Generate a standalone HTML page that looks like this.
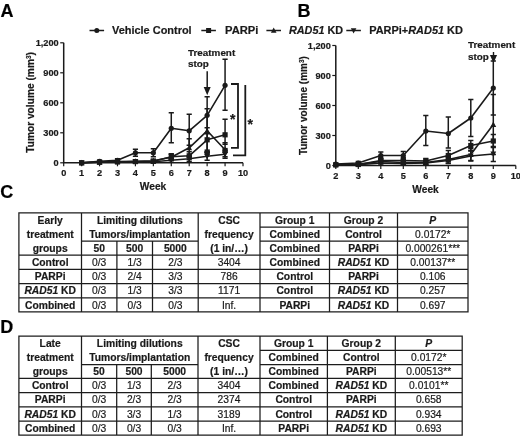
<!DOCTYPE html>
<html lang="en"><head><meta charset="utf-8"><title>Figure</title>
<style>
html,body{margin:0;padding:0;background:#fff;}
body{width:520px;height:436px;overflow:hidden;}
svg{display:block;font-family:"Liberation Sans", Arial, sans-serif;fill:#1a1a1a;}
text{stroke:#1a1a1a;stroke-width:0.2px;}
.tk{font-size:9.2px;font-weight:bold;}
.ax{font-size:10.2px;font-weight:bold;}
.lg{font-size:11px;font-weight:bold;}
.pl{font-size:18px;font-weight:bold;fill:#000;}
.tr{font-size:9.9px;font-weight:bold;}
.tb{font-size:10.3px;font-weight:bold;}
.tn{font-size:10.25px;}
.st{font-size:14px;font-weight:bold;}
i{font-style:italic}
</style></head><body>
<svg width="520" height="436" viewBox="0 0 520 436">
<rect width="520" height="436" fill="#fff"/>
<text x="0.6" y="16.6" class="pl">A</text>
<text x="297.6" y="16.6" class="pl">B</text>
<text x="0.3" y="197.7" class="pl">C</text>
<text x="0.3" y="333.2" class="pl">D</text>
<path d="M89.5 30.5H104.1" stroke="#1a1a1a" stroke-width="1.5"/>
<circle cx="96.80" cy="30.50" r="2.5" fill="#1a1a1a"/>
<text x="112" y="34.3" class="lg" style="font-size:10.95px">Vehicle Control</text>
<path d="M201.29999999999998 30.5H215.9" stroke="#1a1a1a" stroke-width="1.5"/>
<rect x="206.10" y="28.00" width="5.0" height="5.0" fill="#1a1a1a"/>
<text x="225" y="34.3" class="lg" style="font-size:11.2px">PARPi</text>
<path d="M266.4 30.5H281.0" stroke="#1a1a1a" stroke-width="1.5"/>
<path d="M273.70 27.60L276.50 32.80H270.90Z" fill="#1a1a1a"/>
<text x="289" y="34.3" class="lg" style="font-size:10.8px"><tspan font-style="italic">RAD51</tspan> KD</text>
<path d="M346.3 30.5H360.90000000000003" stroke="#1a1a1a" stroke-width="1.5"/>
<path d="M353.60 33.40L356.40 28.20H350.80Z" fill="#1a1a1a"/>
<text x="369.2" y="34.3" class="lg" style="font-size:10.95px">PARPi+<tspan font-style="italic">RAD51</tspan> KD</text>
<path d="M63.7 42.80V162.8H243.00" fill="none" stroke="#1a1a1a" stroke-width="1.5"/>
<path d="M60.2 162.80H63.7" stroke="#1a1a1a" stroke-width="1.2"/>
<text x="58.7" y="165.80" text-anchor="end" class="tk">0</text>
<path d="M60.2 132.80H63.7" stroke="#1a1a1a" stroke-width="1.2"/>
<text x="58.7" y="135.80" text-anchor="end" class="tk">300</text>
<path d="M60.2 102.80H63.7" stroke="#1a1a1a" stroke-width="1.2"/>
<text x="58.7" y="105.80" text-anchor="end" class="tk">600</text>
<path d="M60.2 72.80H63.7" stroke="#1a1a1a" stroke-width="1.2"/>
<text x="58.7" y="75.80" text-anchor="end" class="tk">900</text>
<path d="M60.2 42.80H63.7" stroke="#1a1a1a" stroke-width="1.2"/>
<text x="58.7" y="45.80" text-anchor="end" class="tk">1,200</text>
<path d="M63.70 162.8V166.3" stroke="#1a1a1a" stroke-width="1.2"/>
<text x="63.70" y="176.0" text-anchor="middle" class="tk">0</text>
<path d="M81.63 162.8V166.3" stroke="#1a1a1a" stroke-width="1.2"/>
<text x="81.63" y="176.0" text-anchor="middle" class="tk">1</text>
<path d="M99.56 162.8V166.3" stroke="#1a1a1a" stroke-width="1.2"/>
<text x="99.56" y="176.0" text-anchor="middle" class="tk">2</text>
<path d="M117.49 162.8V166.3" stroke="#1a1a1a" stroke-width="1.2"/>
<text x="117.49" y="176.0" text-anchor="middle" class="tk">3</text>
<path d="M135.42 162.8V166.3" stroke="#1a1a1a" stroke-width="1.2"/>
<text x="135.42" y="176.0" text-anchor="middle" class="tk">4</text>
<path d="M153.35 162.8V166.3" stroke="#1a1a1a" stroke-width="1.2"/>
<text x="153.35" y="176.0" text-anchor="middle" class="tk">5</text>
<path d="M171.28 162.8V166.3" stroke="#1a1a1a" stroke-width="1.2"/>
<text x="171.28" y="176.0" text-anchor="middle" class="tk">6</text>
<path d="M189.21 162.8V166.3" stroke="#1a1a1a" stroke-width="1.2"/>
<text x="189.21" y="176.0" text-anchor="middle" class="tk">7</text>
<path d="M207.14 162.8V166.3" stroke="#1a1a1a" stroke-width="1.2"/>
<text x="207.14" y="176.0" text-anchor="middle" class="tk">8</text>
<path d="M225.07 162.8V166.3" stroke="#1a1a1a" stroke-width="1.2"/>
<text x="225.07" y="176.0" text-anchor="middle" class="tk">9</text>
<path d="M243.00 162.8V166.3" stroke="#1a1a1a" stroke-width="1.2"/>
<text x="243.00" y="176.0" text-anchor="middle" class="tk">10</text>
<path d="M81.63 162.80L99.56 161.30L117.49 160.30L135.42 152.80L153.35 152.80L171.28 128.30L189.21 130.80L207.14 115.30L225.07 85.30" fill="none" stroke="#1a1a1a" stroke-width="1.6" stroke-linejoin="round"/>
<path d="M99.56 160.30V162.30M96.96 160.30h5.2M96.96 162.30h5.2" fill="none" stroke="#1a1a1a" stroke-width="1.5"/>
<path d="M117.49 158.80V161.80M114.89 158.80h5.2M114.89 161.80h5.2" fill="none" stroke="#1a1a1a" stroke-width="1.5"/>
<path d="M135.42 149.30V156.30M132.82 149.30h5.2M132.82 156.30h5.2" fill="none" stroke="#1a1a1a" stroke-width="1.5"/>
<path d="M153.35 148.80V156.80M150.75 148.80h5.2M150.75 156.80h5.2" fill="none" stroke="#1a1a1a" stroke-width="1.5"/>
<path d="M171.28 112.80V142.80M168.68 112.80h5.2M168.68 142.80h5.2" fill="none" stroke="#1a1a1a" stroke-width="1.5"/>
<path d="M189.21 114.30V145.30M186.61 114.30h5.2M186.61 145.30h5.2" fill="none" stroke="#1a1a1a" stroke-width="1.5"/>
<path d="M207.14 96.80V133.80M204.54 96.80h5.2M204.54 133.80h5.2" fill="none" stroke="#1a1a1a" stroke-width="1.5"/>
<path d="M225.07 59.30V110.30M222.47 59.30h5.2M222.47 110.30h5.2" fill="none" stroke="#1a1a1a" stroke-width="1.5"/>
<circle cx="81.63" cy="162.80" r="2.6" fill="#1a1a1a"/>
<circle cx="99.56" cy="161.30" r="2.6" fill="#1a1a1a"/>
<circle cx="117.49" cy="160.30" r="2.6" fill="#1a1a1a"/>
<circle cx="135.42" cy="152.80" r="2.6" fill="#1a1a1a"/>
<circle cx="153.35" cy="152.80" r="2.6" fill="#1a1a1a"/>
<circle cx="171.28" cy="128.30" r="2.6" fill="#1a1a1a"/>
<circle cx="189.21" cy="130.80" r="2.6" fill="#1a1a1a"/>
<circle cx="207.14" cy="115.30" r="2.6" fill="#1a1a1a"/>
<circle cx="225.07" cy="85.30" r="2.6" fill="#1a1a1a"/>
<path d="M81.63 162.80L99.56 162.00L117.49 161.60L135.42 161.30L153.35 160.80L171.28 157.30L189.21 147.80L207.14 130.80L225.07 149.80" fill="none" stroke="#1a1a1a" stroke-width="1.6" stroke-linejoin="round"/>
<path d="M171.28 154.30V160.30M168.68 154.30h5.2M168.68 160.30h5.2" fill="none" stroke="#1a1a1a" stroke-width="1.5"/>
<path d="M189.21 138.80V156.80M186.61 138.80h5.2M186.61 156.80h5.2" fill="none" stroke="#1a1a1a" stroke-width="1.5"/>
<path d="M207.14 108.80V152.80M204.54 108.80h5.2M204.54 152.80h5.2" fill="none" stroke="#1a1a1a" stroke-width="1.5"/>
<path d="M225.07 142.80V156.80M222.47 142.80h5.2M222.47 156.80h5.2" fill="none" stroke="#1a1a1a" stroke-width="1.5"/>
<path d="M81.63 159.80L84.53 165.20H78.73Z" fill="#1a1a1a"/>
<path d="M99.56 159.00L102.46 164.40H96.66Z" fill="#1a1a1a"/>
<path d="M117.49 158.60L120.39 164.00H114.59Z" fill="#1a1a1a"/>
<path d="M135.42 158.30L138.32 163.70H132.52Z" fill="#1a1a1a"/>
<path d="M153.35 157.80L156.25 163.20H150.45Z" fill="#1a1a1a"/>
<path d="M171.28 154.30L174.18 159.70H168.38Z" fill="#1a1a1a"/>
<path d="M189.21 144.80L192.11 150.20H186.31Z" fill="#1a1a1a"/>
<path d="M207.14 127.80L210.04 133.20H204.24Z" fill="#1a1a1a"/>
<path d="M225.07 146.80L227.97 152.20H222.17Z" fill="#1a1a1a"/>
<path d="M81.63 162.80L99.56 162.30L117.49 162.00L135.42 161.60L153.35 161.30L171.28 156.80L189.21 155.80L207.14 139.80L225.07 134.80" fill="none" stroke="#1a1a1a" stroke-width="1.6" stroke-linejoin="round"/>
<path d="M153.35 159.30V162.80M150.75 159.30h5.2M150.75 162.80h5.2" fill="none" stroke="#1a1a1a" stroke-width="1.5"/>
<path d="M171.28 153.80V159.80M168.68 153.80h5.2M168.68 159.80h5.2" fill="none" stroke="#1a1a1a" stroke-width="1.5"/>
<path d="M189.21 151.80V159.80M186.61 151.80h5.2M186.61 159.80h5.2" fill="none" stroke="#1a1a1a" stroke-width="1.5"/>
<path d="M207.14 127.80V151.80M204.54 127.80h5.2M204.54 151.80h5.2" fill="none" stroke="#1a1a1a" stroke-width="1.5"/>
<path d="M225.07 119.30V144.30M222.47 119.30h5.2M222.47 144.30h5.2" fill="none" stroke="#1a1a1a" stroke-width="1.5"/>
<rect x="79.03" y="160.20" width="5.2" height="5.2" fill="#1a1a1a"/>
<rect x="96.96" y="159.70" width="5.2" height="5.2" fill="#1a1a1a"/>
<rect x="114.89" y="159.40" width="5.2" height="5.2" fill="#1a1a1a"/>
<rect x="132.82" y="159.00" width="5.2" height="5.2" fill="#1a1a1a"/>
<rect x="150.75" y="158.70" width="5.2" height="5.2" fill="#1a1a1a"/>
<rect x="168.68" y="154.20" width="5.2" height="5.2" fill="#1a1a1a"/>
<rect x="186.61" y="153.20" width="5.2" height="5.2" fill="#1a1a1a"/>
<rect x="204.54" y="137.20" width="5.2" height="5.2" fill="#1a1a1a"/>
<rect x="222.47" y="132.20" width="5.2" height="5.2" fill="#1a1a1a"/>
<path d="M81.63 162.80L99.56 162.30L117.49 162.30L135.42 162.00L153.35 161.80L171.28 160.30L189.21 158.80L207.14 156.30L225.07 154.30" fill="none" stroke="#1a1a1a" stroke-width="1.6" stroke-linejoin="round"/>
<path d="M171.28 158.30V162.30M168.68 158.30h5.2M168.68 162.30h5.2" fill="none" stroke="#1a1a1a" stroke-width="1.5"/>
<path d="M189.21 155.80V161.80M186.61 155.80h5.2M186.61 161.80h5.2" fill="none" stroke="#1a1a1a" stroke-width="1.5"/>
<path d="M207.14 152.30V160.30M204.54 152.30h5.2M204.54 160.30h5.2" fill="none" stroke="#1a1a1a" stroke-width="1.5"/>
<path d="M225.07 150.30V158.30M222.47 150.30h5.2M222.47 158.30h5.2" fill="none" stroke="#1a1a1a" stroke-width="1.5"/>
<path d="M81.63 165.80L84.53 160.40H78.73Z" fill="#1a1a1a"/>
<path d="M99.56 165.30L102.46 159.90H96.66Z" fill="#1a1a1a"/>
<path d="M117.49 165.30L120.39 159.90H114.59Z" fill="#1a1a1a"/>
<path d="M135.42 165.00L138.32 159.60H132.52Z" fill="#1a1a1a"/>
<path d="M153.35 164.80L156.25 159.40H150.45Z" fill="#1a1a1a"/>
<path d="M171.28 163.30L174.18 157.90H168.38Z" fill="#1a1a1a"/>
<path d="M189.21 161.80L192.11 156.40H186.31Z" fill="#1a1a1a"/>
<path d="M207.14 159.30L210.04 153.90H204.24Z" fill="#1a1a1a"/>
<path d="M225.07 157.30L227.97 151.90H222.17Z" fill="#1a1a1a"/>
<rect x="204.60" y="149.40" width="5.2" height="5.2" fill="#1a1a1a"/>
<rect x="222.50" y="147.90" width="5.2" height="5.2" fill="#1a1a1a"/>
<text transform="translate(34.3 102.4) rotate(-90)" text-anchor="middle" class="ax">Tumor volume (mm<tspan font-size="6.5" dy="-3.2">3</tspan><tspan dy="3.2">)</tspan></text>
<text x="153" y="190" text-anchor="middle" class="ax">Week</text>
<text x="188" y="55.5" class="tr">Treatment</text><text x="188" y="67" class="tr">stop</text>
<path d="M207.2 71.3V89" stroke="#1a1a1a" stroke-width="1.5"/><path d="M203.7 87H210.7L207.2 95.3Z" fill="#1a1a1a"/>
<path d="M231 84H238V147.8H231" fill="none" stroke="#1a1a1a" stroke-width="1.8"/>
<path d="M245.3 85V155.4H233" fill="none" stroke="#1a1a1a" stroke-width="1.8"/>
<text x="232.8" y="123.7" text-anchor="middle" class="st">*</text>
<text x="250.3" y="129.3" text-anchor="middle" class="st">*</text>
<path d="M335.8 45.50V165.5H515.80" fill="none" stroke="#1a1a1a" stroke-width="1.5"/>
<path d="M332.3 165.50H335.8" stroke="#1a1a1a" stroke-width="1.2"/>
<text x="330.8" y="168.50" text-anchor="end" class="tk">0</text>
<path d="M332.3 135.50H335.8" stroke="#1a1a1a" stroke-width="1.2"/>
<text x="330.8" y="138.50" text-anchor="end" class="tk">300</text>
<path d="M332.3 105.50H335.8" stroke="#1a1a1a" stroke-width="1.2"/>
<text x="330.8" y="108.50" text-anchor="end" class="tk">600</text>
<path d="M332.3 75.50H335.8" stroke="#1a1a1a" stroke-width="1.2"/>
<text x="330.8" y="78.50" text-anchor="end" class="tk">900</text>
<path d="M332.3 45.50H335.8" stroke="#1a1a1a" stroke-width="1.2"/>
<text x="330.8" y="48.50" text-anchor="end" class="tk">1,200</text>
<path d="M335.80 165.5V169.0" stroke="#1a1a1a" stroke-width="1.2"/>
<text x="335.80" y="178.7" text-anchor="middle" class="tk">2</text>
<path d="M358.30 165.5V169.0" stroke="#1a1a1a" stroke-width="1.2"/>
<text x="358.30" y="178.7" text-anchor="middle" class="tk">3</text>
<path d="M380.80 165.5V169.0" stroke="#1a1a1a" stroke-width="1.2"/>
<text x="380.80" y="178.7" text-anchor="middle" class="tk">4</text>
<path d="M403.30 165.5V169.0" stroke="#1a1a1a" stroke-width="1.2"/>
<text x="403.30" y="178.7" text-anchor="middle" class="tk">5</text>
<path d="M425.80 165.5V169.0" stroke="#1a1a1a" stroke-width="1.2"/>
<text x="425.80" y="178.7" text-anchor="middle" class="tk">6</text>
<path d="M448.30 165.5V169.0" stroke="#1a1a1a" stroke-width="1.2"/>
<text x="448.30" y="178.7" text-anchor="middle" class="tk">7</text>
<path d="M470.80 165.5V169.0" stroke="#1a1a1a" stroke-width="1.2"/>
<text x="470.80" y="178.7" text-anchor="middle" class="tk">8</text>
<path d="M493.30 165.5V169.0" stroke="#1a1a1a" stroke-width="1.2"/>
<text x="493.30" y="178.7" text-anchor="middle" class="tk">9</text>
<path d="M515.80 165.5V169.0" stroke="#1a1a1a" stroke-width="1.2"/>
<text x="515.80" y="178.7" text-anchor="middle" class="tk">10</text>
<path d="M335.80 164.00L358.30 163.00L380.80 155.50L403.30 155.50L425.80 131.00L448.30 133.50L470.80 118.00L493.30 88.00" fill="none" stroke="#1a1a1a" stroke-width="1.6" stroke-linejoin="round"/>
<path d="M358.30 161.50V164.50M355.70 161.50h5.2M355.70 164.50h5.2" fill="none" stroke="#1a1a1a" stroke-width="1.5"/>
<path d="M380.80 152.00V159.00M378.20 152.00h5.2M378.20 159.00h5.2" fill="none" stroke="#1a1a1a" stroke-width="1.5"/>
<path d="M403.30 151.50V159.50M400.70 151.50h5.2M400.70 159.50h5.2" fill="none" stroke="#1a1a1a" stroke-width="1.5"/>
<path d="M425.80 115.50V145.50M423.20 115.50h5.2M423.20 145.50h5.2" fill="none" stroke="#1a1a1a" stroke-width="1.5"/>
<path d="M448.30 117.00V148.00M445.70 117.00h5.2M445.70 148.00h5.2" fill="none" stroke="#1a1a1a" stroke-width="1.5"/>
<path d="M470.80 99.50V136.50M468.20 99.50h5.2M468.20 136.50h5.2" fill="none" stroke="#1a1a1a" stroke-width="1.5"/>
<path d="M493.30 61.00V115.00M490.70 61.00h5.2M490.70 115.00h5.2" fill="none" stroke="#1a1a1a" stroke-width="1.5"/>
<circle cx="335.80" cy="164.00" r="2.6" fill="#1a1a1a"/>
<circle cx="358.30" cy="163.00" r="2.6" fill="#1a1a1a"/>
<circle cx="380.80" cy="155.50" r="2.6" fill="#1a1a1a"/>
<circle cx="403.30" cy="155.50" r="2.6" fill="#1a1a1a"/>
<circle cx="425.80" cy="131.00" r="2.6" fill="#1a1a1a"/>
<circle cx="448.30" cy="133.50" r="2.6" fill="#1a1a1a"/>
<circle cx="470.80" cy="118.00" r="2.6" fill="#1a1a1a"/>
<circle cx="493.30" cy="88.00" r="2.6" fill="#1a1a1a"/>
<path d="M335.80 164.70L358.30 164.30L380.80 161.50L403.30 162.50L425.80 162.50L448.30 159.50L470.80 154.50L493.30 124.50" fill="none" stroke="#1a1a1a" stroke-width="1.6" stroke-linejoin="round"/>
<path d="M380.80 159.00V164.00M378.20 159.00h5.2M378.20 164.00h5.2" fill="none" stroke="#1a1a1a" stroke-width="1.5"/>
<path d="M403.30 160.50V164.50M400.70 160.50h5.2M400.70 164.50h5.2" fill="none" stroke="#1a1a1a" stroke-width="1.5"/>
<path d="M425.80 160.50V164.50M423.20 160.50h5.2M423.20 164.50h5.2" fill="none" stroke="#1a1a1a" stroke-width="1.5"/>
<path d="M448.30 156.00V163.00M445.70 156.00h5.2M445.70 163.00h5.2" fill="none" stroke="#1a1a1a" stroke-width="1.5"/>
<path d="M470.80 148.50V160.50M468.20 148.50h5.2M468.20 160.50h5.2" fill="none" stroke="#1a1a1a" stroke-width="1.5"/>
<path d="M493.30 94.50V154.50M490.70 94.50h5.2M490.70 154.50h5.2" fill="none" stroke="#1a1a1a" stroke-width="1.5"/>
<path d="M335.80 161.70L338.70 167.10H332.90Z" fill="#1a1a1a"/>
<path d="M358.30 161.30L361.20 166.70H355.40Z" fill="#1a1a1a"/>
<path d="M380.80 158.50L383.70 163.90H377.90Z" fill="#1a1a1a"/>
<path d="M403.30 159.50L406.20 164.90H400.40Z" fill="#1a1a1a"/>
<path d="M425.80 159.50L428.70 164.90H422.90Z" fill="#1a1a1a"/>
<path d="M448.30 156.50L451.20 161.90H445.40Z" fill="#1a1a1a"/>
<path d="M470.80 151.50L473.70 156.90H467.90Z" fill="#1a1a1a"/>
<path d="M493.30 121.50L496.20 126.90H490.40Z" fill="#1a1a1a"/>
<path d="M335.80 165.00L358.30 164.50L380.80 160.50L403.30 160.50L425.80 161.00L448.30 155.50L470.80 145.50L493.30 141.00" fill="none" stroke="#1a1a1a" stroke-width="1.6" stroke-linejoin="round"/>
<path d="M380.80 157.50V163.50M378.20 157.50h5.2M378.20 163.50h5.2" fill="none" stroke="#1a1a1a" stroke-width="1.5"/>
<path d="M403.30 157.50V163.50M400.70 157.50h5.2M400.70 163.50h5.2" fill="none" stroke="#1a1a1a" stroke-width="1.5"/>
<path d="M425.80 158.50V163.50M423.20 158.50h5.2M423.20 163.50h5.2" fill="none" stroke="#1a1a1a" stroke-width="1.5"/>
<path d="M448.30 150.50V160.50M445.70 150.50h5.2M445.70 160.50h5.2" fill="none" stroke="#1a1a1a" stroke-width="1.5"/>
<path d="M470.80 140.50V150.50M468.20 140.50h5.2M468.20 150.50h5.2" fill="none" stroke="#1a1a1a" stroke-width="1.5"/>
<path d="M493.30 134.50V147.50M490.70 134.50h5.2M490.70 147.50h5.2" fill="none" stroke="#1a1a1a" stroke-width="1.5"/>
<rect x="333.20" y="162.40" width="5.2" height="5.2" fill="#1a1a1a"/>
<rect x="355.70" y="161.90" width="5.2" height="5.2" fill="#1a1a1a"/>
<rect x="378.20" y="157.90" width="5.2" height="5.2" fill="#1a1a1a"/>
<rect x="400.70" y="157.90" width="5.2" height="5.2" fill="#1a1a1a"/>
<rect x="423.20" y="158.40" width="5.2" height="5.2" fill="#1a1a1a"/>
<rect x="445.70" y="152.90" width="5.2" height="5.2" fill="#1a1a1a"/>
<rect x="468.20" y="142.90" width="5.2" height="5.2" fill="#1a1a1a"/>
<rect x="490.70" y="138.40" width="5.2" height="5.2" fill="#1a1a1a"/>
<path d="M335.80 165.00L358.30 164.70L380.80 163.00L403.30 163.50L425.80 163.00L448.30 160.50L470.80 156.00L493.30 154.00" fill="none" stroke="#1a1a1a" stroke-width="1.6" stroke-linejoin="round"/>
<path d="M425.80 161.00V165.00M423.20 161.00h5.2M423.20 165.00h5.2" fill="none" stroke="#1a1a1a" stroke-width="1.5"/>
<path d="M448.30 157.50V163.50M445.70 157.50h5.2M445.70 163.50h5.2" fill="none" stroke="#1a1a1a" stroke-width="1.5"/>
<path d="M470.80 151.00V161.00M468.20 151.00h5.2M468.20 161.00h5.2" fill="none" stroke="#1a1a1a" stroke-width="1.5"/>
<path d="M493.30 146.50V161.50M490.70 146.50h5.2M490.70 161.50h5.2" fill="none" stroke="#1a1a1a" stroke-width="1.5"/>
<path d="M335.80 168.00L338.70 162.60H332.90Z" fill="#1a1a1a"/>
<path d="M358.30 167.70L361.20 162.30H355.40Z" fill="#1a1a1a"/>
<path d="M380.80 166.00L383.70 160.60H377.90Z" fill="#1a1a1a"/>
<path d="M403.30 166.50L406.20 161.10H400.40Z" fill="#1a1a1a"/>
<path d="M425.80 166.00L428.70 160.60H422.90Z" fill="#1a1a1a"/>
<path d="M448.30 163.50L451.20 158.10H445.40Z" fill="#1a1a1a"/>
<path d="M470.80 159.00L473.70 153.60H467.90Z" fill="#1a1a1a"/>
<path d="M493.30 157.00L496.20 151.60H490.40Z" fill="#1a1a1a"/>
<text transform="translate(307 105.6) rotate(-90)" text-anchor="middle" class="ax" style="font-size:10px">Tumor volume (mm<tspan font-size="6.5" dy="-3.2">3</tspan><tspan dy="3.2">)</tspan></text>
<text x="425.5" y="193" text-anchor="middle" class="ax">Week</text>
<text x="468" y="48" class="tr">Treatment</text><text x="468" y="60" class="tr">stop</text>
<path d="M493.5 52V56" stroke="#1a1a1a" stroke-width="1.4"/><path d="M489.9 55H497.1L493.5 63Z" fill="#1a1a1a"/>
<path d="M18.9 212.9H468V311.9H18.9ZM81.5 212.9V311.9M198.2 212.9V311.9M260.0 212.9V311.9M329.5 212.9V311.9M397.5 212.9V311.9M116.9 241.20000000000002V311.9M152.5 241.20000000000002V311.9M81.5 241.20000000000002H198.2M18.9 255.10000000000002H468M18.9 269.3H468M18.9 283.5H468M18.9 297.8H468M260.0 227.0H468M260.0 241.20000000000002H468" fill="none" stroke="#1c1c1c" stroke-width="1.25"/>
<text x="50.20" y="223.60" text-anchor="middle" class="tb">Early</text>
<text x="50.20" y="237.70" text-anchor="middle" class="tb">treatment</text>
<text x="50.20" y="251.90" text-anchor="middle" class="tb">groups</text>
<text x="139.85" y="223.60" text-anchor="middle" class="tb">Limiting dilutions</text>
<text x="139.85" y="237.70" text-anchor="middle" class="tb">Tumors/implantation</text>
<text x="99.20" y="251.90" text-anchor="middle" class="tb">50</text>
<text x="134.70" y="251.90" text-anchor="middle" class="tb">500</text>
<text x="175.35" y="251.90" text-anchor="middle" class="tb">5000</text>
<text x="229.10" y="223.60" text-anchor="middle" class="tb">CSC</text>
<text x="229.10" y="237.70" text-anchor="middle" class="tb">frequency</text>
<text x="229.10" y="251.90" text-anchor="middle" class="tb">(1 in/…)</text>
<text x="50.20" y="265.80" text-anchor="middle" class="tb">Control</text>
<text x="99.20" y="265.80" text-anchor="middle" class="tn">0/3</text>
<text x="134.70" y="265.80" text-anchor="middle" class="tn">1/3</text>
<text x="175.35" y="265.80" text-anchor="middle" class="tn">2/3</text>
<text x="229.10" y="265.80" text-anchor="middle" class="tn">3404</text>
<text x="50.20" y="280.00" text-anchor="middle" class="tb">PARPi</text>
<text x="99.20" y="280.00" text-anchor="middle" class="tn">0/3</text>
<text x="134.70" y="280.00" text-anchor="middle" class="tn">2/4</text>
<text x="175.35" y="280.00" text-anchor="middle" class="tn">3/3</text>
<text x="229.10" y="280.00" text-anchor="middle" class="tn">786</text>
<text x="50.20" y="294.20" text-anchor="middle" class="tb"><tspan font-style="italic">RAD51</tspan> KD</text>
<text x="99.20" y="294.20" text-anchor="middle" class="tn">0/3</text>
<text x="134.70" y="294.20" text-anchor="middle" class="tn">1/3</text>
<text x="175.35" y="294.20" text-anchor="middle" class="tn">3/3</text>
<text x="229.10" y="294.20" text-anchor="middle" class="tn">1171</text>
<text x="50.20" y="308.50" text-anchor="middle" class="tb">Combined</text>
<text x="99.20" y="308.50" text-anchor="middle" class="tn">0/3</text>
<text x="134.70" y="308.50" text-anchor="middle" class="tn">0/3</text>
<text x="175.35" y="308.50" text-anchor="middle" class="tn">0/3</text>
<text x="229.10" y="308.50" text-anchor="middle" class="tn">Inf.</text>
<text x="294.75" y="223.60" text-anchor="middle" class="tb">Group 1</text>
<text x="363.50" y="223.60" text-anchor="middle" class="tb">Group 2</text>
<text x="432.75" y="223.60" text-anchor="middle" class="tb"><tspan font-style="italic">P</tspan></text>
<text x="294.75" y="237.70" text-anchor="middle" class="tb">Combined</text>
<text x="363.50" y="237.70" text-anchor="middle" class="tb">Control</text>
<text x="432.75" y="237.70" text-anchor="middle" class="tn">0.0172*</text>
<text x="294.75" y="251.90" text-anchor="middle" class="tb">Combined</text>
<text x="363.50" y="251.90" text-anchor="middle" class="tb">PARPi</text>
<text x="432.75" y="251.90" text-anchor="middle" class="tn">0.000261***</text>
<text x="294.75" y="265.80" text-anchor="middle" class="tb">Combined</text>
<text x="363.50" y="265.80" text-anchor="middle" class="tb"><tspan font-style="italic">RAD51</tspan> KD</text>
<text x="432.75" y="265.80" text-anchor="middle" class="tn">0.00137**</text>
<text x="294.75" y="280.00" text-anchor="middle" class="tb">Control</text>
<text x="363.50" y="280.00" text-anchor="middle" class="tb">PARPi</text>
<text x="432.75" y="280.00" text-anchor="middle" class="tn">0.106</text>
<text x="294.75" y="294.20" text-anchor="middle" class="tb">Control</text>
<text x="363.50" y="294.20" text-anchor="middle" class="tb"><tspan font-style="italic">RAD51</tspan> KD</text>
<text x="432.75" y="294.20" text-anchor="middle" class="tn">0.257</text>
<text x="294.75" y="308.50" text-anchor="middle" class="tb">PARPi</text>
<text x="363.50" y="308.50" text-anchor="middle" class="tb"><tspan font-style="italic">RAD51</tspan> KD</text>
<text x="432.75" y="308.50" text-anchor="middle" class="tn">0.697</text>
<path d="M18.9 336.2H462.2V435.2H18.9ZM81.5 336.2V435.2M198.0 336.2V435.2M260.0 336.2V435.2M327.4 336.2V435.2M395.3 336.2V435.2M116.7 364.5V435.2M151.3 364.5V435.2M81.5 364.5H198.0M18.9 378.4H462.2M18.9 392.59999999999997H462.2M18.9 406.79999999999995H462.2M18.9 421.1H462.2M260.0 350.3H462.2M260.0 364.5H462.2" fill="none" stroke="#1c1c1c" stroke-width="1.25"/>
<text x="50.20" y="346.90" text-anchor="middle" class="tb">Late</text>
<text x="50.20" y="361.00" text-anchor="middle" class="tb">treatment</text>
<text x="50.20" y="375.20" text-anchor="middle" class="tb">groups</text>
<text x="139.75" y="346.90" text-anchor="middle" class="tb">Limiting dilutions</text>
<text x="139.75" y="361.00" text-anchor="middle" class="tb">Tumors/implantation</text>
<text x="99.10" y="375.20" text-anchor="middle" class="tb">50</text>
<text x="134.00" y="375.20" text-anchor="middle" class="tb">500</text>
<text x="174.65" y="375.20" text-anchor="middle" class="tb">5000</text>
<text x="229.00" y="346.90" text-anchor="middle" class="tb">CSC</text>
<text x="229.00" y="361.00" text-anchor="middle" class="tb">frequency</text>
<text x="229.00" y="375.20" text-anchor="middle" class="tb">(1 in/…)</text>
<text x="50.20" y="389.10" text-anchor="middle" class="tb">Control</text>
<text x="99.10" y="389.10" text-anchor="middle" class="tn">0/3</text>
<text x="134.00" y="389.10" text-anchor="middle" class="tn">1/3</text>
<text x="174.65" y="389.10" text-anchor="middle" class="tn">2/3</text>
<text x="229.00" y="389.10" text-anchor="middle" class="tn">3404</text>
<text x="50.20" y="403.30" text-anchor="middle" class="tb">PARPi</text>
<text x="99.10" y="403.30" text-anchor="middle" class="tn">0/3</text>
<text x="134.00" y="403.30" text-anchor="middle" class="tn">2/3</text>
<text x="174.65" y="403.30" text-anchor="middle" class="tn">2/3</text>
<text x="229.00" y="403.30" text-anchor="middle" class="tn">2374</text>
<text x="50.20" y="417.50" text-anchor="middle" class="tb"><tspan font-style="italic">RAD51</tspan> KD</text>
<text x="99.10" y="417.50" text-anchor="middle" class="tn">0/3</text>
<text x="134.00" y="417.50" text-anchor="middle" class="tn">3/3</text>
<text x="174.65" y="417.50" text-anchor="middle" class="tn">1/3</text>
<text x="229.00" y="417.50" text-anchor="middle" class="tn">3189</text>
<text x="50.20" y="431.80" text-anchor="middle" class="tb">Combined</text>
<text x="99.10" y="431.80" text-anchor="middle" class="tn">0/3</text>
<text x="134.00" y="431.80" text-anchor="middle" class="tn">0/3</text>
<text x="174.65" y="431.80" text-anchor="middle" class="tn">0/3</text>
<text x="229.00" y="431.80" text-anchor="middle" class="tn">Inf.</text>
<text x="293.70" y="346.90" text-anchor="middle" class="tb">Group 1</text>
<text x="361.35" y="346.90" text-anchor="middle" class="tb">Group 2</text>
<text x="428.75" y="346.90" text-anchor="middle" class="tb"><tspan font-style="italic">P</tspan></text>
<text x="293.70" y="361.00" text-anchor="middle" class="tb">Combined</text>
<text x="361.35" y="361.00" text-anchor="middle" class="tb">Control</text>
<text x="428.75" y="361.00" text-anchor="middle" class="tn">0.0172*</text>
<text x="293.70" y="375.20" text-anchor="middle" class="tb">Combined</text>
<text x="361.35" y="375.20" text-anchor="middle" class="tb">PARPi</text>
<text x="428.75" y="375.20" text-anchor="middle" class="tn">0.00513**</text>
<text x="293.70" y="389.10" text-anchor="middle" class="tb">Combined</text>
<text x="361.35" y="389.10" text-anchor="middle" class="tb"><tspan font-style="italic">RAD51</tspan> KD</text>
<text x="428.75" y="389.10" text-anchor="middle" class="tn">0.0101**</text>
<text x="293.70" y="403.30" text-anchor="middle" class="tb">Control</text>
<text x="361.35" y="403.30" text-anchor="middle" class="tb">PARPi</text>
<text x="428.75" y="403.30" text-anchor="middle" class="tn">0.658</text>
<text x="293.70" y="417.50" text-anchor="middle" class="tb">Control</text>
<text x="361.35" y="417.50" text-anchor="middle" class="tb"><tspan font-style="italic">RAD51</tspan> KD</text>
<text x="428.75" y="417.50" text-anchor="middle" class="tn">0.934</text>
<text x="293.70" y="431.80" text-anchor="middle" class="tb">PARPi</text>
<text x="361.35" y="431.80" text-anchor="middle" class="tb"><tspan font-style="italic">RAD51</tspan> KD</text>
<text x="428.75" y="431.80" text-anchor="middle" class="tn">0.693</text>
</svg></body></html>
